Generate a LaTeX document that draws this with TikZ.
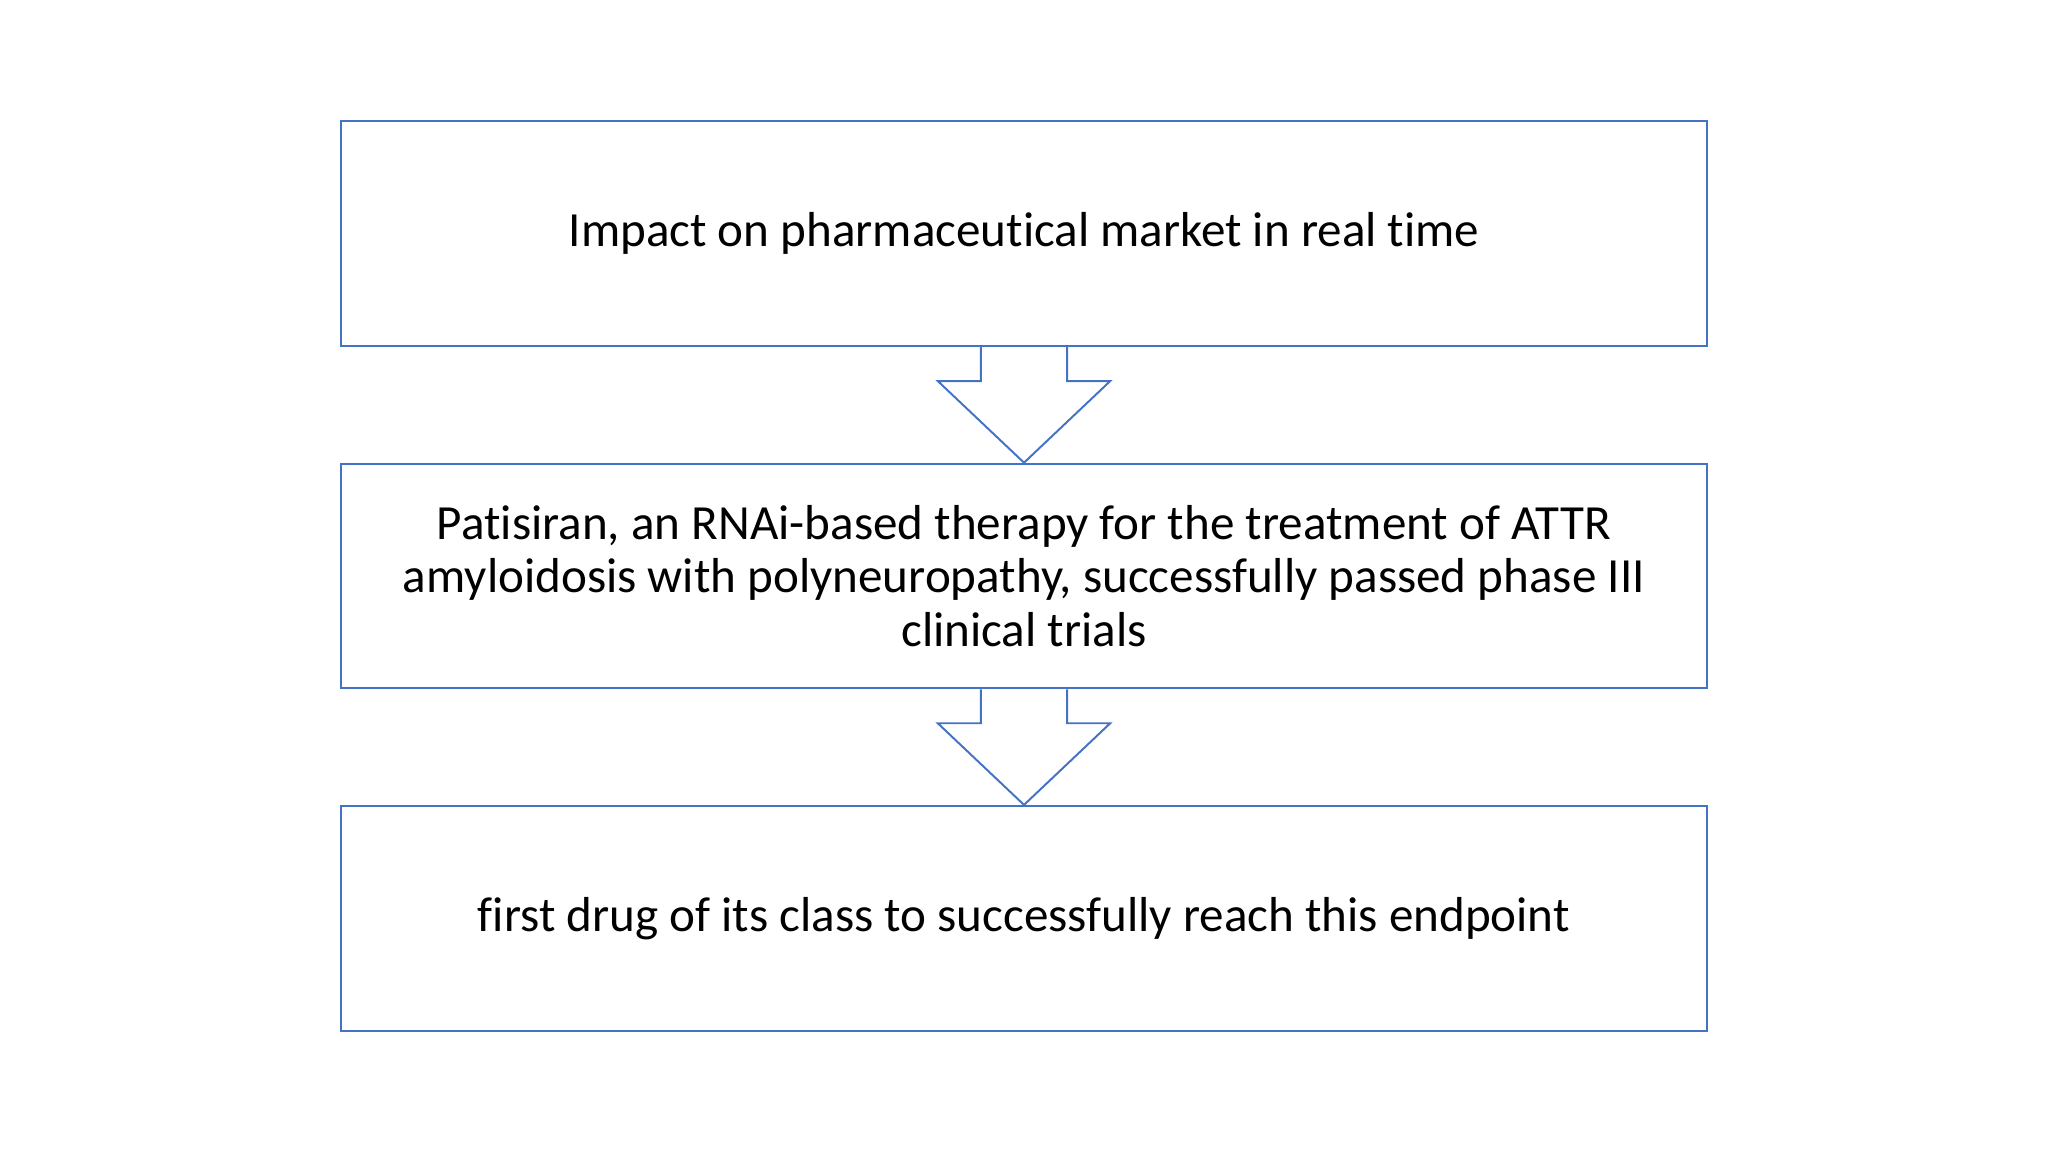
\documentclass[tikz,border=0pt]{standalone}
\usepackage{fontspec}
\setmainfont[RawFeature={-liga;-clig;-dlig}]{Carlito}
\definecolor{bblue}{HTML}{4472C4}
\begin{document}
\begin{tikzpicture}[x=0.5pt,y=-0.5pt,
  box/.style={draw=bblue,line width=0.75pt,minimum width=523pt,minimum height=86pt,align=center,font=\fontsize{18.8}{20.6}\selectfont,inner sep=0pt},
  blockarrow/.style={draw=bblue,line width=0.75pt,fill=white,line join=miter}]
\useasboundingbox (0,0) rectangle (1568,882);
\node[box] (a) at (784,179) {Impact on pharmaceutical market in real time};
\node[box] (b) at (784,441) {Patisiran, an RNAi-based therapy for the treatment of ATTR\\amyloidosis with polyneuropathy, successfully passed phase III\\clinical trials};
\node[box] (c) at (784,703) {first drug of its class to successfully reach this endpoint};
\foreach \u/\l in {a/b,b/c}{
  \fill[white] ([xshift=-16.5pt]\u.south) rectangle ([xshift=16.5pt,yshift=-1pt]\u.south);
  \draw[blockarrow] ([xshift=-16.5pt]\u.south) -- ++(0,26) -- ++(-33,0) -- (\l.north) -- ([xshift=33pt,yshift=-13pt]\u.south) -- ++(-33,0) -- ([xshift=16.5pt]\u.south);
}
\end{tikzpicture}
\end{document}
